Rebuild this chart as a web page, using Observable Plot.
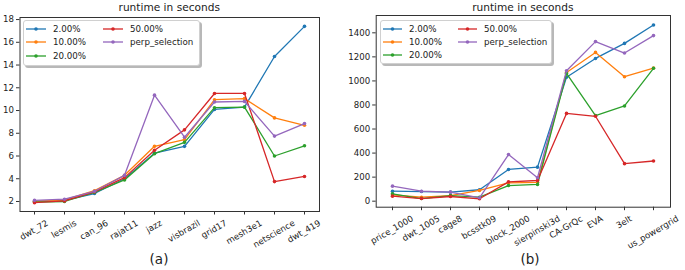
<!DOCTYPE html>
<html><head><meta charset="utf-8">
<script src="https://cdn.jsdelivr.net/npm/d3@7"></script>
<script src="https://cdn.jsdelivr.net/npm/@observablehq/plot@0.6"></script>
<style>
body{margin:0;background:#fff;font-family:"DejaVu Sans",sans-serif;}
#root{position:relative;width:685px;height:270px;overflow:hidden;background:#fff;}
.abs{position:absolute;}
.title{font-size:10.6px;line-height:12px;text-align:center;color:#222;white-space:nowrap;}
.cap{font-size:13.5px;line-height:16px;text-align:center;color:#222;}
.legend{background:#fff;border:1px solid #d0d0d0;border-radius:3px;box-shadow:2px 2px 0 rgba(0,0,0,0.28);}
.lg-item{position:absolute;height:12px;font-size:8.7px;line-height:12px;color:#222;white-space:nowrap;}
.lg-item svg{position:absolute;left:0;top:0;}
.lg-item span{position:absolute;top:0;}
</style></head>
<body><div id="root"></div>
<script>
const seriesNames = ["2.00%","10.00%","20.00%","50.00%","perp_selection"];
const seriesColors = ["#1f77b4","#ff7f0e","#2ca02c","#d62728","#9467bd"];

const catsA = ["dwt_72","lesmis","can_96","rajat11","jazz","visbrazil","grid17","mesh3e1","netscience","dwt_419"];
const a_2    = [2.0, 2.1, 2.7, 4.0, 6.25, 6.85, 10.1, 10.3, 14.75, 17.4];
const a_10   = [2.0, 2.15, 2.95, 4.3, 6.85, 7.45, 10.95, 11.05, 9.35, 8.7];
const a_20   = [1.95, 2.0, 2.8, 3.9, 6.2, 7.2, 10.25, 10.3, 6.0, 6.9];
const a_50   = [1.9, 2.05, 2.85, 4.1, 6.5, 8.3, 11.5, 11.5, 3.75, 4.2];
const a_perp = [2.1, 2.2, 2.9, 4.3, 11.35, 7.65, 10.75, 10.8, 7.75, 8.85];
const ticksA = [2,4,6,8,10,12,14,16,18];

const catsB = ["price_1000","dwt_1005","cage8","bcsstk09","block_2000","sierpinski3d","CA-GrQc","EVA","3elt","us_powergrid"];
const b_2    = [83, 80, 75, 95, 264, 283, 1030, 1187, 1312, 1465];
const b_10   = [53, 33, 47, 89, 153, 157, 1070, 1237, 1035, 1107];
const b_20   = [61, 22, 47, 33, 130, 139, 1062, 712, 792, 1105];
const b_50   = [42, 22, 39, 20, 161, 172, 730, 706, 312, 334];
const b_perp = [125, 83, 75, 28, 388, 195, 1085, 1327, 1232, 1377];
const ticksB = [0,200,400,600,800,1000,1200,1400];

const titleText = "runtime in seconds";

function longData(cats, arrays) {
  const out = [];
  arrays.forEach((arr, s) => arr.forEach((v, i) => out.push({series: seriesNames[s], cat: cats[i], value: v})));
  return out;
}

const root = document.getElementById("root");

function makePanel(cfg) {
  const data = longData(cfg.cats, cfg.series);
  const marks = [];
  seriesNames.forEach(s => {
    const d = data.filter(r => r.series === s);
    marks.push(Plot.line(d, {x: "cat", y: "value", stroke: "series", strokeWidth: 1.3}));
    marks.push(Plot.dot(d, {x: "cat", y: "value", fill: "series", r: 1.8}));
  });
  const svg = Plot.plot({
    width: cfg.width, height: cfg.height,
    marginLeft: cfg.ml, marginRight: cfg.mr, marginTop: cfg.mt, marginBottom: cfg.mb,
    style: {fontFamily: "DejaVu Sans", fontSize: "8.6px", color: "#222", background: "transparent", overflow: "visible"},
    x: {type: "point", domain: cfg.cats, padding: 0.45},
    y: {domain: cfg.ydomain},
    color: {domain: seriesNames, range: seriesColors},
    marks: [
      ...marks,
      Plot.frame({stroke: "#333", strokeWidth: 1}),
      Plot.axisY({ticks: cfg.yticks, tickFormat: d3.format("d"), tickSize: 3.5, tickPadding: 2.5, label: null, stroke: "#333", fill: "#222"}),
      Plot.axisX({tickSize: 3.5, tickPadding: 3.5, tickRotate: -30, textAnchor: "end", lineAnchor: "middle", label: null, stroke: "#333", fill: "#222"})
    ]
  });
  const wrap = document.createElement("div");
  wrap.className = "abs";
  wrap.style.left = cfg.left + "px";
  wrap.style.top = "0px";
  wrap.appendChild(svg);
  root.appendChild(wrap);

  // matplotlib-style centred rotated labels (positions from Plot's x scale)
  const xs = svg.scale("x");
  const fs = 8.6, h = 1.15 * fs, c = Math.cos(Math.PI/6);
  const top = cfg.height - cfg.mb + 7;
  const catSet = new Set(cfg.cats);
  svg.querySelectorAll("text").forEach(t => {
    const label = t.textContent;
    if (!catSet.has(label)) return;
    const g = t.parentNode;
    if (g && g.removeAttribute) g.removeAttribute("transform");
    const X = xs.apply(label);
    const L = t.getComputedTextLength();
    t.removeAttribute("x"); t.removeAttribute("y"); t.removeAttribute("dx");
    t.setAttribute("dy", "0.32em");
    t.setAttribute("text-anchor", "end");
    t.setAttribute("transform", `translate(${X + 0.5 * c * L},${top + 0.5 * c * h}) rotate(-30)`);
  });

  // title
  const ti = document.createElement("div");
  ti.className = "abs title";
  ti.textContent = titleText;
  ti.style.left = (cfg.left + cfg.ml) + "px";
  ti.style.width = (cfg.width - cfg.ml - cfg.mr) + "px";
  ti.style.top = "1px";
  root.appendChild(ti);

  // caption
  const cap = document.createElement("div");
  cap.className = "abs cap";
  cap.textContent = cfg.caption;
  cap.style.left = (cfg.capX - 30) + "px";
  cap.style.width = "60px";
  cap.style.top = "251px";
  root.appendChild(cap);

  // legend
  const lg = document.createElement("div");
  lg.className = "abs legend";
  Object.assign(lg.style, {left: cfg.lg.x + "px", top: cfg.lg.y + "px", width: cfg.lg.w + "px", height: cfg.lg.h + "px"});
  seriesNames.forEach((s, i) => {
    const col = i < 3 ? 0 : 1, row = i < 3 ? i : i - 3;
    const it = document.createElement("div");
    it.className = "lg-item";
    it.style.left = (cfg.lg.x0 + col * cfg.lg.dx) + "px";
    it.style.top = (cfg.lg.y0 + row * cfg.lg.dy) + "px";
    it.innerHTML = `<svg width="22" height="12"><line x1="0" x2="${cfg.lg.len}" y1="6" y2="6" stroke="${seriesColors[i]}" stroke-width="1.3"/><circle cx="${cfg.lg.len/2}" cy="6" r="1.8" fill="${seriesColors[i]}"/></svg><span style="left:${cfg.lg.tx}px">${s}</span>`;
    lg.appendChild(it);
  });
  root.appendChild(lg);
}

makePanel({
  cats: catsA, series: [a_2, a_10, a_20, a_50, a_perp],
  left: 0, width: 340, height: 250, ml: 19.5, mr: 21, mt: 17, mb: 39,
  ydomain: [1.12, 18.18], yticks: ticksA, caption: "(a)", capX: 159,
  lg: {x: 23, y: 20, w: 175, h: 44, x0: 2, y0: 2, dx: 77, dy: 13.4, len: 20, tx: 27}
});
makePanel({
  cats: catsB, series: [b_2, b_10, b_20, b_50, b_perp],
  left: 340, width: 345, height: 250, ml: 35.7, mr: 15, mt: 15, mb: 43.3,
  ydomain: [-50, 1544], yticks: ticksB, caption: "(b)", capX: 530,
  lg: {x: 380, y: 20, w: 170, h: 42, x0: 2, y0: 2, dx: 75, dy: 12.8, len: 19, tx: 26}
});
</script>
</body></html>
